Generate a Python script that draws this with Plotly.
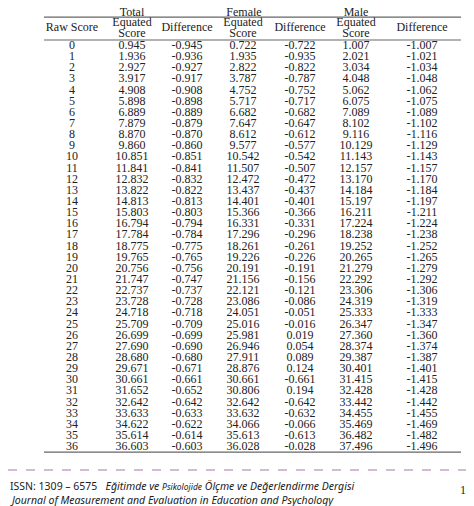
import plotly.graph_objects as go

raw = list(range(37))
total_eq = [0.945,1.936,2.927,3.917,4.908,5.898,6.889,7.879,8.870,9.860,10.851,11.841,12.832,13.822,14.813,15.803,16.794,17.784,18.775,19.765,20.756,21.747,22.737,23.728,24.718,25.709,26.699,27.690,28.680,29.671,30.661,31.652,32.642,33.633,34.622,35.614,36.603]
total_diff = [-0.945,-0.936,-0.927,-0.917,-0.908,-0.898,-0.889,-0.879,-0.870,-0.860,-0.851,-0.841,-0.832,-0.822,-0.813,-0.803,-0.794,-0.784,-0.775,-0.765,-0.756,-0.747,-0.737,-0.728,-0.718,-0.709,-0.699,-0.690,-0.680,-0.671,-0.661,-0.652,-0.642,-0.633,-0.622,-0.614,-0.603]
female_eq = [0.722,1.935,2.822,3.787,4.752,5.717,6.682,7.647,8.612,9.577,10.542,11.507,12.472,13.437,14.401,15.366,16.331,17.296,18.261,19.226,20.191,21.156,22.121,23.086,24.051,25.016,25.981,26.946,27.911,28.876,30.661,30.806,32.642,33.632,34.066,35.613,36.028]
female_diff = [-0.722,-0.935,-0.822,-0.787,-0.752,-0.717,-0.682,-0.647,-0.612,-0.577,-0.542,-0.507,-0.472,-0.437,-0.401,-0.366,-0.331,-0.296,-0.261,-0.226,-0.191,-0.156,-0.121,-0.086,-0.051,-0.016,0.019,0.054,0.089,0.124,-0.661,0.194,-0.642,-0.632,-0.066,-0.613,-0.028]
male_eq = [1.007,2.021,3.034,4.048,5.062,6.075,7.089,8.102,9.116,10.129,11.143,12.157,13.170,14.184,15.197,16.211,17.224,18.238,19.252,20.265,21.279,22.292,23.306,24.319,25.333,26.347,27.360,28.374,29.387,30.401,31.415,32.428,33.442,34.455,35.469,36.482,37.496]
male_diff = [-1.007,-1.021,-1.034,-1.048,-1.062,-1.075,-1.089,-1.102,-1.116,-1.129,-1.143,-1.157,-1.170,-1.184,-1.197,-1.211,-1.224,-1.238,-1.252,-1.265,-1.279,-1.292,-1.306,-1.319,-1.333,-1.347,-1.360,-1.374,-1.387,-1.401,-1.415,-1.428,-1.442,-1.455,-1.469,-1.482,-1.496]

col_x = [64, 124, 179, 235, 292, 348, 414]
single_heads = ["Raw Score", "", "Difference", "", "Difference", "", "Difference"]
eq_x = [124, 235, 348]
groups = ["Total", "Female", "Male"]
group_x = [124, 236, 348]

F = dict(family="Liberation Serif", size=12, color="#222")
fig = go.Figure()
cols = [[str(v) for v in raw]] + [[f"{v:.3f}" for v in c] for c in (total_eq,total_diff,female_eq,female_diff,male_eq,male_diff)]
for x, c in zip(col_x, cols):
    fig.add_trace(go.Scatter(x=[x]*len(c), y=raw, mode="text", text=c, textfont=F, hoverinfo="skip"))
fig.add_trace(go.Scatter(x=col_x, y=[-1.58]*7, mode="text", text=single_heads, textfont=F, hoverinfo="skip"))
fig.add_trace(go.Scatter(x=eq_x, y=[-2.08]*3, mode="text", text=["Equated"]*3, textfont=F, hoverinfo="skip"))
fig.add_trace(go.Scatter(x=eq_x, y=[-1.08]*3, mode="text", text=["Score"]*3, textfont=F, hoverinfo="skip"))
fig.add_trace(go.Scatter(x=group_x, y=[-2.98]*3, mode="text", text=groups, textfont=F, hoverinfo="skip"))

for yy in [-2.6, -0.54, 36.45]:
    fig.add_shape(type="line", x0=36, x1=453, y0=yy, y1=yy, line=dict(color="#666", width=1.2))
fig.add_shape(type="line", xref="paper", yref="paper", x0=0, x1=0.97, y0=1-462/506, y1=1-462/506,
              line=dict(color="#a47aa8", width=1.2, dash="dash"))
fig.add_annotation(xref="paper", yref="paper", x=0, y=1-478/506, xanchor="left", yanchor="middle", showarrow=False,
                   text="ISSN: 1309 – 6575   <i>Eğitimde ve <span style='font-size:8.5px'>Psikolojide</span> Ölçme ve Değerlendirme Dergisi</i>",
                   font=dict(family="Noto Sans", size=10.5, color="#222"))
fig.add_annotation(xref="paper", yref="paper", x=0, y=1-492/506, xanchor="left", yanchor="middle", showarrow=False,
                   text="<i>Journal of Measurement and Evaluation in Education and Psychology</i>",
                   font=dict(family="Noto Sans", size=10.5, color="#222"))
fig.add_annotation(xref="paper", yref="paper", x=0.995, y=1-482/506, xanchor="right", yanchor="middle", showarrow=False,
                   text="135", font=dict(family="Liberation Serif", size=12, color="#222"))

fig.update_layout(width=474, height=506, margin=dict(l=0, r=0, t=0, b=0), showlegend=False,
                  plot_bgcolor="white", paper_bgcolor="white",
                  xaxis=dict(range=[0, 474], visible=False, fixedrange=True),
                  yaxis=dict(range=[42.0, -3.41], visible=False, fixedrange=True))
fig.write_html("out.html")
